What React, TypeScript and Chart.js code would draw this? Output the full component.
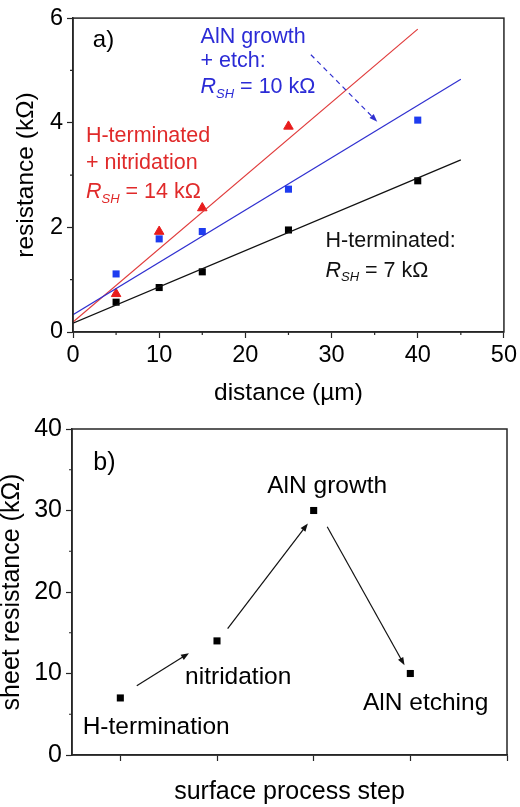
import React, { useEffect, useRef } from 'react';
import { Chart, registerables } from 'chart.js';
Chart.register(...registerables);

const FONT = '"Liberation Sans", Arial, Helvetica, sans-serif';

// ---- panel a) data ----
const distances = [5, 10, 15, 25, 40];
const hTerminated = [0.57, 0.85, 1.15, 1.95, 2.89];
const alnGrowthEtch = [1.11, 1.78, 1.92, 2.73, 4.05];
const nitrDistances = [5, 10, 15, 25];
const hTermNitridation = [0.73, 1.92, 2.37, 3.93];
const fitX = [0, 45];
const fitBlack = [0.17, 3.29];
const fitBlue = [0.33, 4.83];
const fitRedX = [0, 40];
const fitRed = [0.19, 5.79];
const xMinorA = [5, 15, 25, 35, 45];
const yMinorA = [1, 3, 5];

// ---- panel b) data ----
const steps = [1, 2, 3, 4];
const stepLabels = ['H-termination', 'nitridation', 'AlN growth', 'AlN etching'];
const sheetResistance = [7, 14, 30, 10];
const xTicksB = [1, 2, 3, 4, 5];
const yMinorB = [5, 15, 25, 35];

const BLUE = '#1e3cf0';
const BLUE_LINE = '#3030d0';
const BLUE_TEXT = '#2b2bd6';
const RED = '#e81c1c';
const RED_LINE = '#e03a3a';
const RED_TEXT = '#e02a2a';
const AXIS = '#262626';

type Seg = { t: string; italic?: boolean; sub?: boolean };
type Note = { x: number; y: number; color: string; size: number; segs: Seg[] };
type Arrow = { x1: number; y1: number; x2: number; y2: number; color: string; dash?: number[] };

const rsh = (v: string): Seg[] => [{ t: 'R', italic: true }, { t: 'SH', italic: true, sub: true }, { t: ' = ' + v }];

const notesA: Note[] = [
  { x: 2.3, y: 5.58, color: '#000', size: 24, segs: [{ t: 'a)' }] },
  { x: 14.8, y: 5.64, color: BLUE_TEXT, size: 21.5, segs: [{ t: 'AlN growth' }] },
  { x: 14.8, y: 5.17, color: BLUE_TEXT, size: 21.5, segs: [{ t: '+ etch:' }] },
  { x: 14.8, y: 4.68, color: BLUE_TEXT, size: 21.5, segs: rsh('10 kΩ') },
  { x: 1.5, y: 3.74, color: RED_TEXT, size: 21.5, segs: [{ t: 'H-terminated' }] },
  { x: 1.5, y: 3.23, color: RED_TEXT, size: 21.5, segs: [{ t: '+ nitridation' }] },
  { x: 1.5, y: 2.67, color: RED_TEXT, size: 21.5, segs: rsh('14 kΩ') },
  { x: 29.3, y: 1.73, color: '#111', size: 21.5, segs: [{ t: 'H-terminated:' }] },
  { x: 29.3, y: 1.17, color: '#111', size: 21.5, segs: rsh('7 kΩ') },
];
const arrowsA: Arrow[] = [{ x1: 27.6, y1: 5.3, x2: 35.3, y2: 4.02, color: BLUE_LINE, dash: [5, 4] }];

const notesB: Note[] = [
  { x: 0.72, y: 35.8, color: '#000', size: 25, segs: [{ t: 'b)' }] },
  { x: 2.52, y: 33.0, color: '#000', size: 24.5, segs: [{ t: stepLabels[2] }] },
  { x: 1.67, y: 9.5, color: '#000', size: 24.5, segs: [{ t: stepLabels[1] }] },
  { x: 0.61, y: 3.4, color: '#000', size: 24.5, segs: [{ t: stepLabels[0] }] },
  { x: 3.51, y: 6.4, color: '#000', size: 24.5, segs: [{ t: stepLabels[3] }] },
];
const arrowsB: Arrow[] = [
  { x1: 1.17, y1: 8.5, x2: 1.71, y2: 12.5, color: '#111' },
  { x1: 2.11, y1: 15.5, x2: 2.94, y2: 28.4, color: '#111' },
  { x1: 3.14, y1: 28.0, x2: 3.94, y2: 11.0, color: '#111' },
];

function makeDecor(notes: Note[], arrows: Arrow[], xMinor: number[], yMinor: number[]) {
  return {
    id: 'decor',
    afterDatasetsDraw(chart: any) {
      const { ctx, chartArea, scales } = chart;
      const xs = scales.x, ys = scales.y;
      ctx.save();
      // frame
      ctx.strokeStyle = AXIS;
      ctx.lineWidth = 1.5;
      ctx.strokeRect(chartArea.left, chartArea.top, chartArea.right - chartArea.left, chartArea.bottom - chartArea.top);
      // minor ticks
      ctx.lineWidth = 1.2;
      ctx.beginPath();
      xMinor.forEach((v) => {
        const px = xs.getPixelForValue(v);
        ctx.moveTo(px, chartArea.bottom);
        ctx.lineTo(px, chartArea.bottom + 3);
      });
      yMinor.forEach((v) => {
        const py = ys.getPixelForValue(v);
        ctx.moveTo(chartArea.left, py);
        ctx.lineTo(chartArea.left - 3, py);
      });
      ctx.stroke();
      // arrows
      arrows.forEach((a) => {
        const x1 = xs.getPixelForValue(a.x1), y1 = ys.getPixelForValue(a.y1);
        const x2 = xs.getPixelForValue(a.x2), y2 = ys.getPixelForValue(a.y2);
        const ang = Math.atan2(y2 - y1, x2 - x1);
        const hl = 8, hw = 3;
        ctx.strokeStyle = a.color;
        ctx.fillStyle = a.color;
        ctx.lineWidth = 1.2;
        ctx.setLineDash(a.dash || []);
        ctx.beginPath();
        ctx.moveTo(x1, y1);
        ctx.lineTo(x2 - Math.cos(ang) * hl * 0.8, y2 - Math.sin(ang) * hl * 0.8);
        ctx.stroke();
        ctx.setLineDash([]);
        ctx.beginPath();
        ctx.moveTo(x2, y2);
        ctx.lineTo(x2 - Math.cos(ang) * hl - Math.sin(ang) * hw, y2 - Math.sin(ang) * hl + Math.cos(ang) * hw);
        ctx.lineTo(x2 - Math.cos(ang) * hl + Math.sin(ang) * hw, y2 - Math.sin(ang) * hl - Math.cos(ang) * hw);
        ctx.closePath();
        ctx.fill();
      });
      // notes
      ctx.textBaseline = 'middle';
      ctx.textAlign = 'left';
      notes.forEach((n) => {
        let x = xs.getPixelForValue(n.x);
        const y = ys.getPixelForValue(n.y);
        ctx.fillStyle = n.color;
        n.segs.forEach((s) => {
          const size = s.sub ? Math.round(n.size * 0.62) : n.size;
          ctx.font = `${s.italic ? 'italic ' : ''}${size}px ${FONT}`;
          ctx.fillText(s.t, x, y + (s.sub ? n.size * 0.32 : 0));
          x += ctx.measureText(s.t).width;
        });
      });
      ctx.restore();
    },
  };
}

function axisCommon() {
  return {
    grid: { display: true, drawOnChartArea: false, drawTicks: true, tickLength: 6, color: AXIS, tickWidth: 1.2 },
    border: { display: true, color: AXIS, width: 1.5 },
  };
}

export default function App() {
  const refA = useRef<HTMLCanvasElement | null>(null);
  const refB = useRef<HTMLCanvasElement | null>(null);

  useEffect(() => {
    const pts = (xs: number[], ys: number[]) => xs.map((x, i) => ({ x, y: ys[i] }));
    const chartA = new Chart(refA.current as HTMLCanvasElement, {
      type: 'scatter',
      data: {
        datasets: [
          { data: pts(fitX, fitBlack), showLine: true, borderColor: '#111', borderWidth: 1.2, pointRadius: 0 },
          { data: pts(fitX, fitBlue), showLine: true, borderColor: BLUE_LINE, borderWidth: 1.2, pointRadius: 0 },
          { data: pts(fitRedX, fitRed), showLine: true, borderColor: RED_LINE, borderWidth: 1.2, pointRadius: 0 },
          { data: pts(nitrDistances, hTermNitridation), pointStyle: 'triangle', pointRadius: 5.5, backgroundColor: RED, borderColor: RED, borderWidth: 1 },
          { data: pts(distances, alnGrowthEtch), pointStyle: 'rect', pointRadius: 5, backgroundColor: BLUE, borderColor: BLUE, borderWidth: 0 },
          { data: pts(distances, hTerminated), pointStyle: 'rect', pointRadius: 5, backgroundColor: '#000', borderColor: '#000', borderWidth: 0 },
        ],
      },
      options: {
        responsive: false,
        animation: false,
        events: [],
        layout: { padding: { top: 13, right: 13, left: 0, bottom: 0 } },
        plugins: { legend: { display: false }, tooltip: { enabled: false } },
        scales: {
          x: {
            type: 'linear', min: 0, max: 50,
            ...axisCommon(),
            ticks: { stepSize: 10, color: '#000', font: { family: FONT, size: 23.5 }, padding: 3, maxRotation: 0 },
            title: { display: true, text: 'distance (µm)', color: '#000', font: { family: FONT, size: 24.5, lineHeight: 1 }, padding: { top: 0, bottom: 5 } },
            afterFit: (s: any) => { s.height = 78; },
          },
          y: {
            type: 'linear', min: 0, max: 6,
            ...axisCommon(),
            ticks: { stepSize: 2, color: '#000', font: { family: FONT, size: 23.5 }, padding: 4 },
            title: { display: true, text: 'resistance (kΩ)', color: '#000', font: { family: FONT, size: 24.5, lineHeight: 1 }, padding: { top: 14, bottom: 0 } },
            afterFit: (s: any) => { s.width = 73; },
          },
        },
      } as any,
      plugins: [makeDecor(notesA, arrowsA, xMinorA, yMinorA)],
    });

    const chartB = new Chart(refB.current as HTMLCanvasElement, {
      type: 'scatter',
      data: {
        datasets: [
          { data: pts(steps, sheetResistance), pointStyle: 'rect', pointRadius: 5, backgroundColor: '#000', borderColor: '#000', borderWidth: 0 },
        ],
      },
      options: {
        responsive: false,
        animation: false,
        events: [],
        layout: { padding: { top: 18, right: 13, left: 0, bottom: 0 } },
        plugins: { legend: { display: false }, tooltip: { enabled: false } },
        scales: {
          x: {
            type: 'linear', min: 0.5, max: 5,
            ...axisCommon(),
            afterBuildTicks: (s: any) => { s.ticks = xTicksB.map((v) => ({ value: v })); },
            ticks: { display: false },
            title: { display: true, text: 'surface process step', color: '#000', font: { family: FONT, size: 25, lineHeight: 1 }, padding: { top: 0, bottom: 2 } },
            afterFit: (s: any) => { s.height = 52; },
          },
          y: {
            type: 'linear', min: 0, max: 40,
            ...axisCommon(),
            ticks: { stepSize: 10, color: '#000', font: { family: FONT, size: 25 }, padding: 4 },
            title: { display: true, text: 'sheet resistance (kΩ)', color: '#000', font: { family: FONT, size: 25, lineHeight: 1 }, padding: { top: 0, bottom: 0 } },
            afterFit: (s: any) => { s.width = 72; },
          },
        },
      } as any,
      plugins: [makeDecor(notesB, arrowsB, [], yMinorB)],
    });

    return () => {
      chartA.destroy();
      chartB.destroy();
    };
  }, []);

  return (
    <div style={{ position: 'absolute', left: 0, top: 0, width: 520, height: 807, background: '#fff' }}>
      <canvas ref={refA} width={520} height={410} style={{ display: 'block', width: 520, height: 410 }} />
      <canvas ref={refB} width={520} height={397} style={{ display: 'block', width: 520, height: 397 }} />
    </div>
  );
}
